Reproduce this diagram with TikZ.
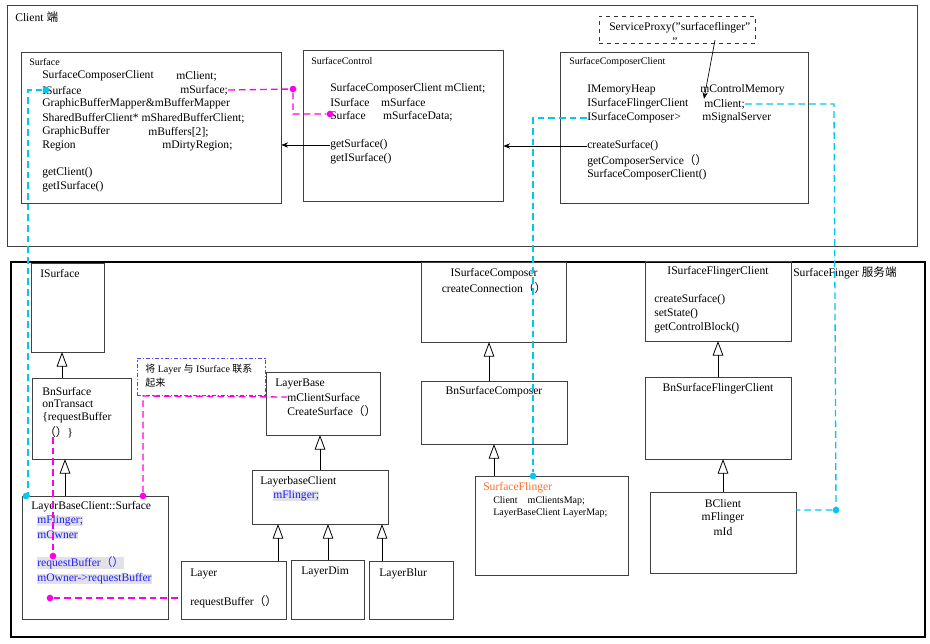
\documentclass[tikz,border=0pt]{standalone}
\usepackage{fontspec}
\setmainfont{Liberation Serif}
\newfontfamily\cjk{Noto Sans CJK SC}
\newcommand{\fwp}{{\cjk （）}}
\usetikzlibrary{arrows.meta,fit}
\definecolor{cy}{RGB}{0,200,240}
\definecolor{mg}{RGB}{255,0,230}
\definecolor{bl}{RGB}{30,30,255}
\definecolor{hl}{RGB}{225,225,230}
\definecolor{og}{RGB}{255,110,40}
\begin{document}
\begin{tikzpicture}[x=0.75pt,y=-0.75pt,
  box/.style={draw=black!75,line width=0.6pt,inner sep=0,fit=#1},
  t/.style={anchor=west,inner sep=0,font=\fontsize{8.7}{9}\selectfont},
  tc/.style={anchor=center,inner sep=0,font=\fontsize{8.7}{9}\selectfont},
  ts/.style={anchor=west,inner sep=0,font=\fontsize{7.5}{8}\selectfont},
  inh/.style={-{Triangle[open,width=8pt,length=11pt]},line width=0.6pt},
  ar/.style={-{Stealth[length=5pt,width=4pt]},line width=0.5pt},
  cyl/.style={cy,line width=1pt,dash pattern=on 5pt off 3pt},
  mgl/.style={mg,line width=1pt,dash pattern=on 5pt off 3pt},
  dot/.style={circle,fill=#1,inner sep=0,minimum size=5pt}]
\fill[white] (0,0) rectangle (930,643);
\useasboundingbox (0,0) rectangle (930,643);
% frames
\coordinate (ca) at (7,5); \coordinate (cb) at (917,246);
\node[box=(ca)(cb)] (client) {};
\node[t] (clab) at (15,17) {Client {\cjk 端}};
\coordinate (sa) at (11,262); \coordinate (sb) at (925,637);
\node[box=(sa)(sb),line width=1.6pt,draw=black] (server) {};
\node[t] (slab) at (793,273) {SurfaceFinger {\cjk 服务端}};
% Surface
\coordinate (s1) at (21,52); \coordinate (s2) at (281,203);
\node[box=(s1)(s2)] (surf) {};
\node[ts] (su0) at (29,62) {Surface};
\node[t] (su1) at (42,76) {SurfaceComposerClient}; \node[t] (su1b) at (176,76) {mClient;};
\node[t] (su2) at (42,90) {ISurface}; \node[t] (su2b) at (180,90) {mSurface;};
\node[t] (su3) at (42,104) {GraphicBufferMapper\&mBufferMapper};
\node[t] (su4) at (42,118) {SharedBufferClient* mSharedBufferClient;};
\node[t] (su5) at (42,132) {GraphicBuffer}; \node[t] (su5b) at (148,132) {mBuffers[2];};
\node[t] (su6) at (42,146) {Region}; \node[t] (su6b) at (162,146) {mDirtyRegion;};
\node[t] (su7) at (42,173) {getClient()};
\node[t] (su8) at (42,187) {getISurface()};
% SurfaceControl
\coordinate (c1) at (303,50); \coordinate (c2) at (503,201);
\node[box=(c1)(c2)] (sctl) {};
\node[ts] (sc0) at (311,61) {SurfaceControl};
\node[t] (sc1) at (330,89) {SurfaceComposerClient mClient;};
\node[t] (sc2) at (330,102) {ISurface\quad mSurface};
\node[t] (sc3) at (330,116) {Surface\quad\ \ mSurfaceData;};
\node[t] (sc4) at (330,145) {getSurface()};
\node[t] (sc5) at (330,159) {getISurface()};
% SurfaceComposerClient
\coordinate (k1) at (560,52); \coordinate (k2) at (808,203);
\node[box=(k1)(k2)] (scc) {};
\node[ts] (k0) at (569,62) {SurfaceComposerClient};
\node[t] (k1t) at (587,90) {IMemoryHeap}; \node[t] (k1b) at (700,90) {mControlMemory};
\node[t] (k2t) at (587,104) {ISurfaceFlingerClient}; \node[t] (k2b) at (704,104) {mClient;};
\node[t] (k3t) at (587,118) {ISurfaceComposer>}; \node[t] (k3b) at (702,118) {mSignalServer};
\node[t] (k4) at (587,146) {createSurface()};
\node[t] (k5) at (587,161) {getComposerService\fwp};
\node[t] (k6) at (587,175) {SurfaceComposerClient()};
% ServiceProxy
\coordinate (p1) at (599,16); \coordinate (p2) at (755,43);
\node[box=(p1)(p2),dashed,draw=black!80] (sp) {};
\begin{scope}
\clip (599,16) rectangle (755,43);
\node[t] (spt) at (609,28) {ServiceProxy("surfaceflinger"};
\node[t] (spt2) at (672,42) {"};
\end{scope}
\draw[ar] (715,40) -- (k2b.north west);
\draw[ar] (k4.west) -- (k4.west -| sctl.east);
\draw[ar] (sc4.west) -- (sc4.west -| surf.east);
% magenta client
\node[dot=mg] (m1) at (293,89) {};
\node[dot=mg] (m2) at (330,114) {};
\draw[mgl] (su2b.east) -- (m1) -- (293,114) -- (m2);
% Server boxes
\coordinate (i1) at (31,263); \coordinate (i2) at (104,352);
\node[box=(i1)(i2)] (isurf) {};
\node[t] (it) at (40,273) {ISurface};
\coordinate (b1) at (32,378); \coordinate (b2) at (131,459);
\node[box=(b1)(b2)] (bns) {};
\node[t] (bt1) at (42,391) {BnSurface};
\node[t] (bt2) at (42,404) {onTransact};
\node[t] (bt3) at (42,418) {\{requestBuffer};
\node[t] (bt4) at (44,432) {\fwp\}};
\draw[inh] (62,378) -- (62,352);
\coordinate (l1) at (22,496); \coordinate (l2) at (168,619);
\node[box=(l1)(l2)] (lbcs) {};
\node[t] (lt1) at (31,507) {LayerBaseClient::Surface};
\node[t,fill=hl,text=bl] (lt2) at (37,521) {mFlinger;};
\node[t,fill=hl,text=bl] (lt3) at (37,535) {mOwner};
\node[t,fill=hl,text=bl] (lt4) at (37,563) {requestBuffer\fwp};
\node[t,fill=hl,text=bl] (lt5) at (37,579) {mOwner->requestBuffer};
\draw[inh] (65,496) -- (65,459);
\coordinate (n1) at (137,358); \coordinate (n2) at (265,395);
\node[box=(n1)(n2),draw=bl!80,dash pattern=on 3pt off 1.5pt on 1pt off 1.5pt] (note) {};
\node[ts] (nt1) at (145,369) {{\cjk 将} Layer {\cjk 与} ISurface {\cjk 联系}};
\node[ts] (nt2) at (145,383) {{\cjk 起来}};
\coordinate (lb1) at (266,372); \coordinate (lb2) at (380,435);
\node[box=(lb1)(lb2)] (lbase) {};
\node[t] (lbt1) at (275,384) {LayerBase};
\node[t] (lbt2) at (287,397) {mClientSurface};
\node[t] (lbt3) at (287,411) {CreateSurface\fwp};
\coordinate (lc1) at (252,470); \coordinate (lc2) at (388,524);
\node[box=(lc1)(lc2)] (lbc) {};
\node[t] (lct1) at (260,482) {LayerbaseClient};
\node[t,fill=hl,text=bl] (lct2) at (273,496) {mFlinger;};
\draw[inh] (320,470) -- (320,435);
\coordinate (y1) at (181,561); \coordinate (y2) at (286,619);
\node[box=(y1)(y2)] (layer) {};
\node[t] (yt1) at (190,574) {Layer};
\node[t] (yt2) at (190,602) {requestBuffer\fwp};
\coordinate (d1) at (291,560); \coordinate (d2) at (364,619);
\node[box=(d1)(d2)] (ldim) {};
\node[t] (dt) at (301,572) {LayerDim};
\coordinate (u1) at (369,561); \coordinate (u2) at (453,619);
\node[box=(u1)(u2)] (lblur) {};
\node[t] (ut) at (379,574) {LayerBlur};
\draw[inh] (278,561) -- (278,524);
\draw[inh] (328,560) -- (328,524);
\draw[inh] (382,561) -- (382,524);
% composer column
\coordinate (q1) at (421,262); \coordinate (q2) at (566,342);
\node[box=(q1)(q2)] (isc) {};
\node[tc] (qt1) at (494,274) {ISurfaceComposer};
\node[tc] (qt2) at (494,288) {createConnection\fwp};
\coordinate (r1) at (421,381); \coordinate (r2) at (567,444);
\node[box=(r1)(r2)] (bnsc) {};
\node[tc] (rt) at (494,392) {BnSurfaceComposer};
\coordinate (f1) at (475,476); \coordinate (f2) at (628,575);
\node[box=(f1)(f2)] (sf) {};
\node[t,text=og] (ft1) at (483,488) {SurfaceFlinger};
\node[ts] (ft2) at (493,501) {Client\quad mClientsMap;};
\node[ts] (ft3) at (493,513) {LayerBaseClient LayerMap;};
\draw[inh] (489,381) -- (489,342);
\draw[inh] (494,476) -- (494,444);
% flinger client column
\coordinate (g1) at (645,261); \coordinate (g2) at (791,341);
\node[box=(g1)(g2)] (isfc) {};
\node[tc] (gt1) at (718,272) {ISurfaceFlingerClient};
\node[t] (gt2) at (654,300) {createSurface()};
\node[t] (gt3) at (654,314) {setState()};
\node[t] (gt4) at (654,328) {getControlBlock()};
\coordinate (h1) at (645,377); \coordinate (h2) at (791,459);
\node[box=(h1)(h2)] (bnsfc) {};
\node[tc] (ht) at (718,389) {BnSurfaceFlingerClient};
\coordinate (e1) at (650,492); \coordinate (e2) at (796,573);
\node[box=(e1)(e2)] (bcl) {};
\node[tc] (et1) at (723,504) {BClient};
\node[tc] (et2) at (723,518) {mFlinger};
\node[tc] (et3) at (723,532) {mId};
\draw[inh] (718,377) -- (718,341);
\draw[inh] (723,492) -- (723,459);
% cyan links
\node[dot=cy] (cd1) at (46,90) {};
\node[dot=cy] (cd2) at (26,496) {};
\draw[cyl] (cd1) -- (28,90) -- (28,496) -- (cd2);
\node[dot=cy] (cd3) at (533,476) {};
\draw[cyl] (k3t.west) -- (533,118) -- (cd3);
\node[dot=cy] (cd4) at (836,510) {};
\draw[cyl] (k2b.east) -- (834,104) -- (cd4) -- (bcl.east |- cd4);
% magenta server
\node[dot=mg] (md1) at (143,496) {};
\draw[mgl] (md1) -- (143,396) -- (lbt2.west);
\node[dot=mg] (md2) at (53,556) {};
\draw[mgl] (53,437) -- (md2);
\node[dot=mg] (md3) at (50,598) {};
\draw[mgl] (md3) -- (layer.west |- md3);
\end{tikzpicture}
\end{document}
